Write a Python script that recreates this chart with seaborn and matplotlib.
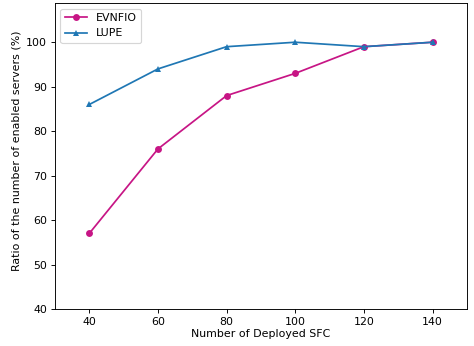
import matplotlib
matplotlib.use("Agg")
import matplotlib.pyplot as plt
import seaborn as sns
import pandas as pd

sfc = [40, 60, 80, 100, 120, 140]
evnfio = [57, 76, 88, 93, 99, 100]
lupe = [86, 94, 99, 100, 99, 100]

df = pd.DataFrame({
    "sfc": sfc * 2,
    "ratio": evnfio + lupe,
    "method": ["EVNFIO"] * len(sfc) + ["LUPE"] * len(sfc),
})

DPI = 83
fig = plt.figure(figsize=(474 / DPI, 346 / DPI), dpi=DPI)
ax = fig.add_axes([0.116, 0.107, 0.869, 0.884])
sns.lineplot(data=df, x="sfc", y="ratio", hue="method", style="method",
             markers={"EVNFIO": "o", "LUPE": "^"}, dashes=False,
             palette={"EVNFIO": "#c71585", "LUPE": "#1f77b4"},
             markersize=6, markeredgewidth=0, linewidth=1.5, ax=ax)
ax.set_xlim(30, 150)
ax.set_ylim(40, 108.8)
ax.set_xticks(sfc)
ax.set_yticks([40, 50, 60, 70, 80, 90, 100])
ax.tick_params(labelsize=9.5)
ax.set_xlabel("Number of Deployed SFC", fontsize=9.5, labelpad=1.5)
ax.set_ylabel("Ratio of the number of enabled servers (%)", fontsize=9.5, y=0.516)
ax.legend(title=None, loc="upper left", fontsize=9.5)
fig.savefig("out.png", dpi=DPI)
